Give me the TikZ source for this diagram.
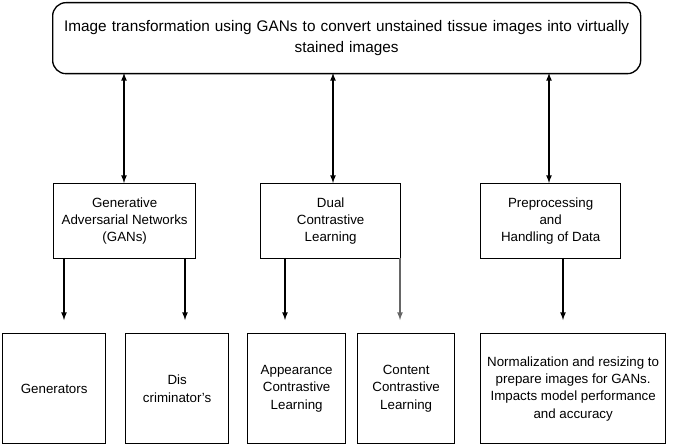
\documentclass[tikz,border=0pt]{standalone}
\usepackage{fontspec}
\setmainfont{Liberation Sans}
\begin{document}
\begin{tikzpicture}[x=0.75pt,y=-0.75pt,
  box/.style={draw,line width=1pt,inner sep=0pt,align=center,font=\fontsize{10}{13}\selectfont},
  arr/.style={-latex,line width=1pt},
  darr/.style={latex-latex,line width=1pt}]
\useasboundingbox (0,0) rectangle (685,445);
\node[box,rounded corners=10pt,minimum width=588pt*0.75,minimum height=71pt*0.75,anchor=north west,text width=580*0.75pt,font=\fontsize{11.5}{16}\selectfont] (top) at (52,2) {Image transformation using GANs to convert unstained tissue images into virtually\\stained images};
\node[box,minimum width=142*0.75pt,minimum height=75*0.75pt,anchor=north west] (gan) at (53,183) {Generative\\Adversarial Networks\\(GANs)};
\node[box,minimum width=140*0.75pt,minimum height=75*0.75pt,anchor=north west] (dual) at (260,183) {Dual\\Contrastive\\Learning};
\node[box,minimum width=140*0.75pt,minimum height=75*0.75pt,anchor=north west] (pre) at (480,183) {Preprocessing\\and\\Handling of Data};
\node[box,minimum width=103*0.75pt,minimum height=110*0.75pt,anchor=north west] (g) at (2,333) {Generators};
\node[box,minimum width=103*0.75pt,minimum height=110*0.75pt,anchor=north west] (d) at (125,333) {Dis\\criminator's};
\node[box,minimum width=98*0.75pt,minimum height=110*0.75pt,anchor=north west] (a) at (247,333) {Appearance\\Contrastive\\Learning};
\node[box,minimum width=97*0.75pt,minimum height=110*0.75pt,anchor=north west] (c) at (357,333) {Content\\Contrastive\\Learning};
\node[box,minimum width=185*0.75pt,minimum height=110*0.75pt,anchor=north west] (n) at (480,333) {Normalization and resizing to\\prepare images for GANs.\\Impacts model performance\\and accuracy};
\draw[darr] (124,73) -- (124,183);
\draw[darr] (333,73) -- (333,183);
\draw[darr] (549,73) -- (549,183);
\draw[arr] (64,258) -- (64,320);
\draw[arr] (185,258) -- (185,320);
\draw[arr] (285,258) -- (285,320);
\draw[arr,black!60] (400,258) -- (400,320);
\draw[arr] (563,258) -- (563,320);
\end{tikzpicture}
\end{document}
